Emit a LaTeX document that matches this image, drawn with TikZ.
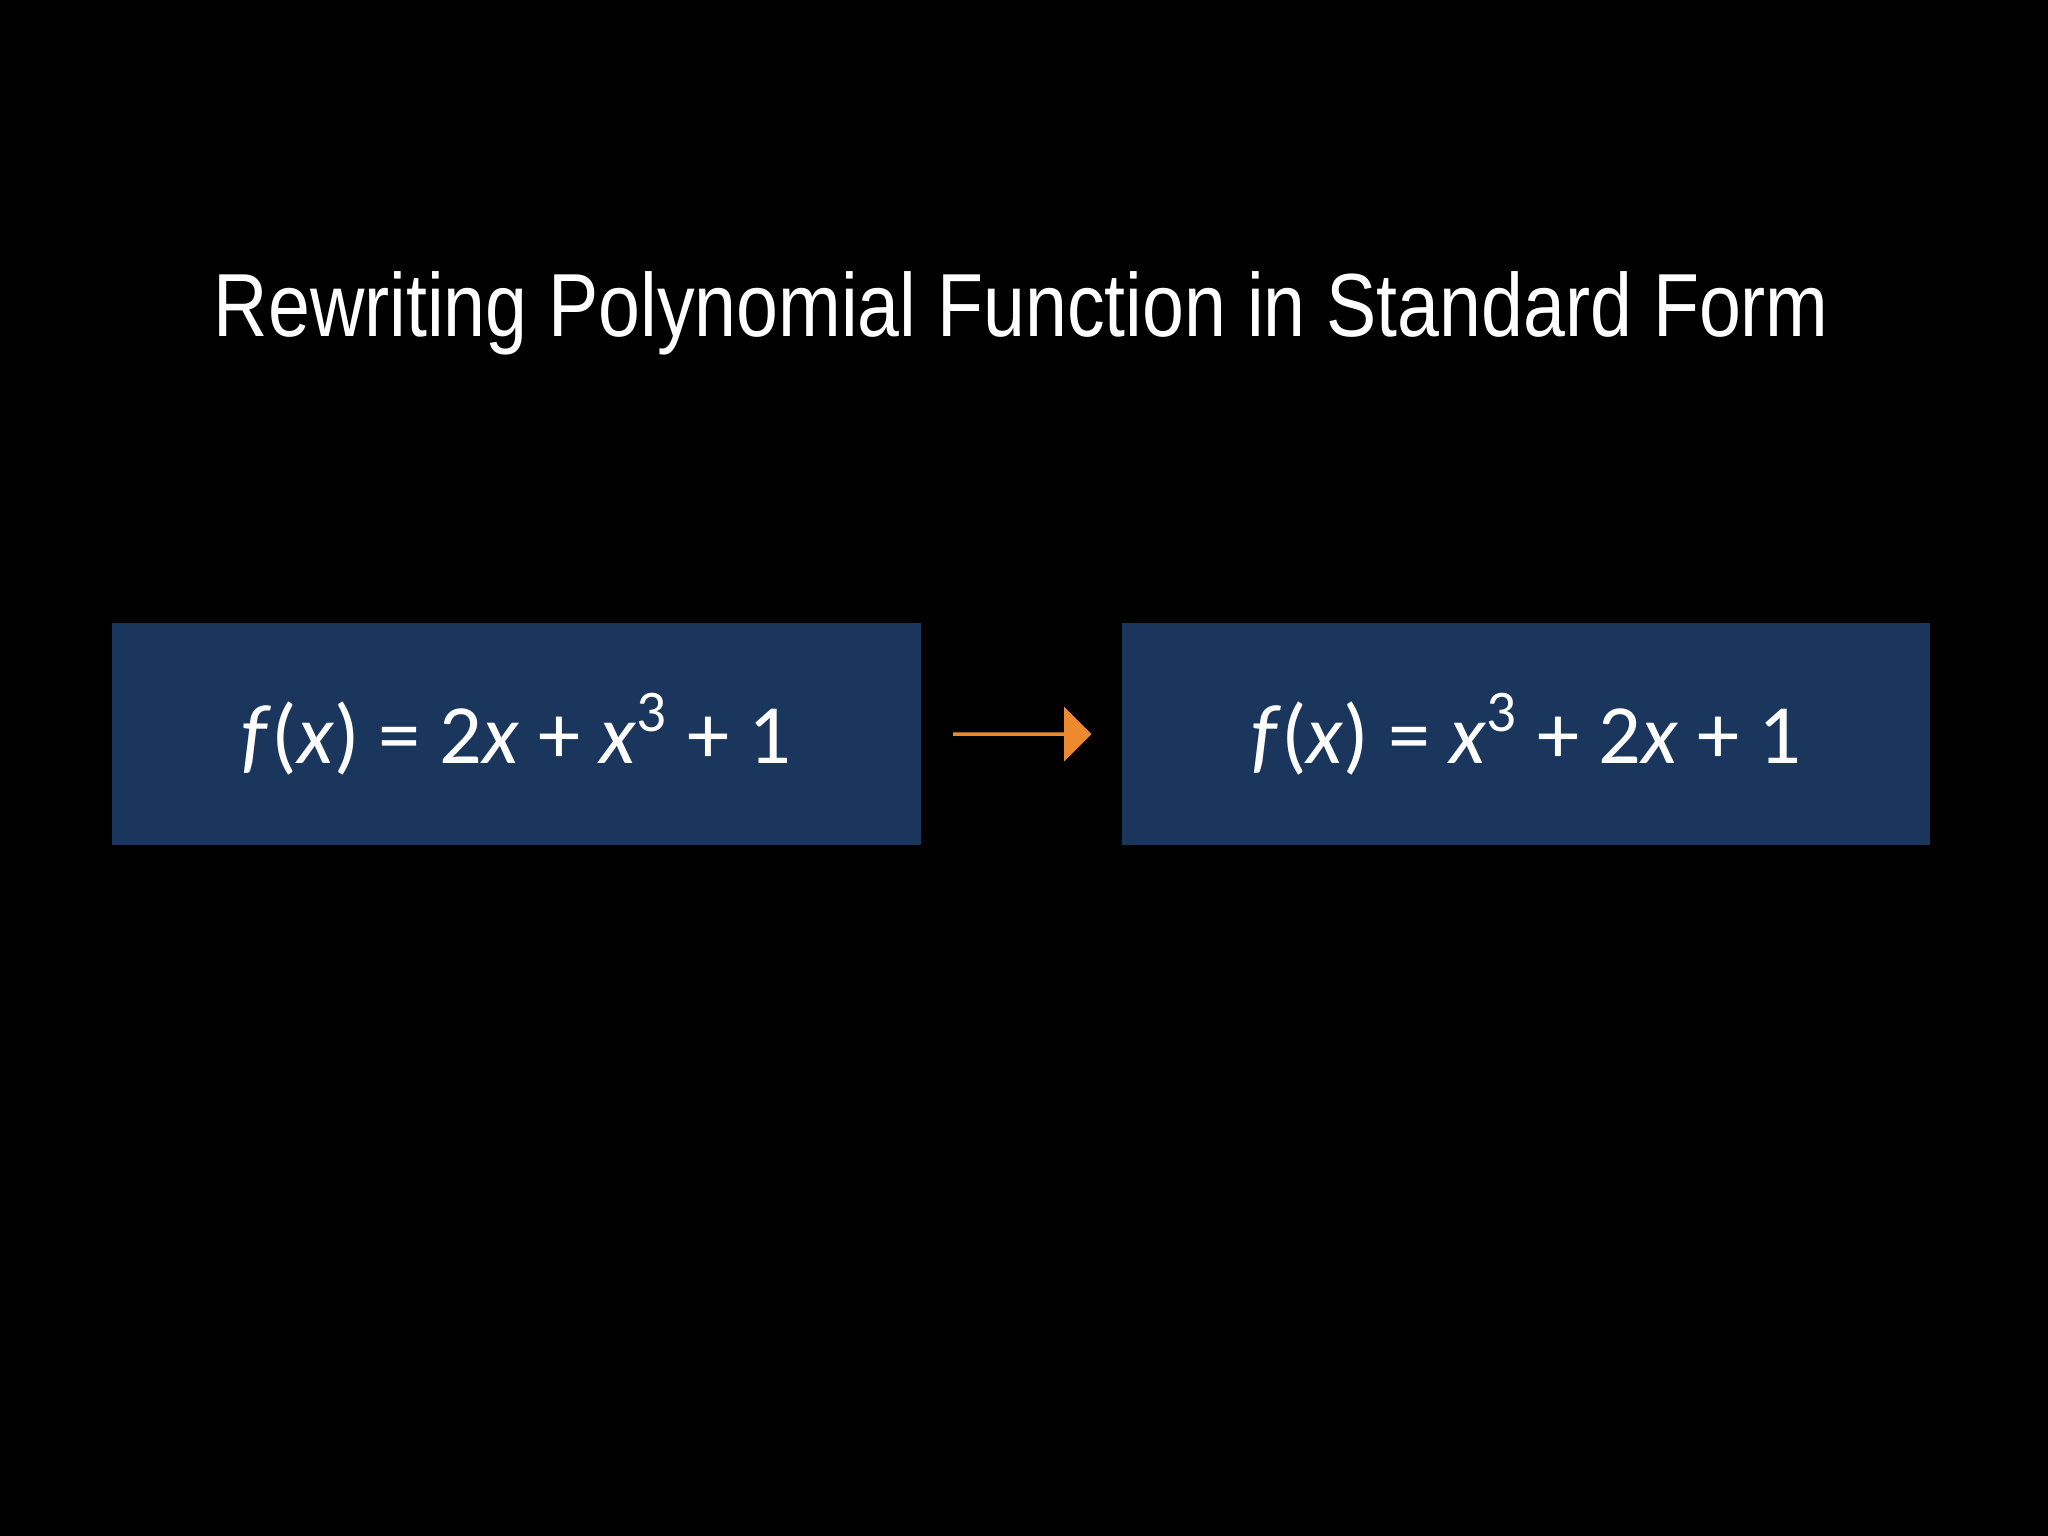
\documentclass[tikz,border=0pt]{standalone}
\usepackage{fontspec}
\setmainfont{Carlito}
\newfontfamily\titlefont[FakeStretch=0.84]{Liberation Sans}
\usetikzlibrary{shapes.arrows}
\definecolor{boxblue}{HTML}{1B365D}
\definecolor{arroworange}{HTML}{EE8A2E}
\tikzset{eqbox/.style={fill=boxblue,minimum width=619*0.013061cm,minimum height=170*0.013061cm,inner sep=0,text=white,font=\fontsize{24}{28}\selectfont}}
\begin{document}
\begin{tikzpicture}[x=0.013061cm,y=-0.013061cm]
\fill[black] (0,0) rectangle (1568,1176);
\useasboundingbox (0,0) rectangle (1568,1176);
\node[text=white,font=\titlefont\fontsize{25.5}{30}\selectfont] (title) at (782,240) {Rewriting Polynomial Function in Standard Form};
\node[eqbox] (left) at (395.5,562) {\textit{f}(\textit{x}) = 2\textit{x} + \textit{x}\textsuperscript{3} + 1};
\node[eqbox] (right) at (1168.5,562) {\textit{f}(\textit{x}) = \textit{x}\textsuperscript{3} + 2\textit{x} + 1};
\node[single arrow,fill=arroworange,draw=none,minimum width=42*0.013061cm,minimum height=106*0.013061cm,single arrow head extend=3pt,inner sep=0] (arr) at (782,562) {};
\end{tikzpicture}
\end{document}
